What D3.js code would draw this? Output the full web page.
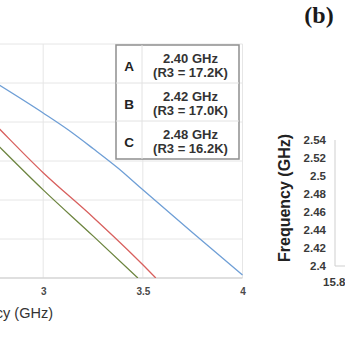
<!DOCTYPE html>
<html>
<head>
<meta charset="utf-8">
<script src="https://cdn.jsdelivr.net/npm/d3@7/dist/d3.min.js"></script>
<style>
  html, body { margin: 0; padding: 0; background: #fff; }
  svg { display: block; }
</style>
</head>
<body>
<script>
// ---- Data (left panel) ----
const freqA = [2.5, 2.75, 3.0, 3.125, 3.25, 3.375, 3.5, 3.75, 4.0];
const valuesA = [29.1, 25.2, 21.15, 19.0, 16.6, 14.1, 11.3, 5.8, 0.4];
const freqB = [2.5, 2.75, 3.0, 3.25, 3.5, 3.565];
const valuesB = [26.3, 19.9, 13.5, 7.8, 1.7, 0];
const freqC = [2.5, 2.75, 3.0, 3.25, 3.475];
const valuesC = [24.0, 17.6, 11.3, 5.4, 0];
const xTicks = [2.5, 3, 3.5, 4];
const xTickLabels = [3, 3.5, 4];
const yTicks = [0, 5, 10, 15, 20, 25, 30];
const seriesNames = ["A", "B", "C"];
const seriesColors = ["#6f9fd6", "#d8605e", "#6d8540"];
const legendFreq = ["2.40 GHz", "2.42 GHz", "2.48 GHz"];
const legendR3 = ["(R3 = 17.2K)", "(R3 = 17.0K)", "(R3 = 16.2K)"];
const xTitle = "Frequency (GHz)";

// ---- Data (right panel, partially visible) ----
const rightYTicks = [2.4, 2.42, 2.44, 2.46, 2.48, 2.5, 2.52, 2.54];
const rightXTicks = [15.8];
const rightYTitle = "Frequency (GHz)";
const panelLabel = "(b)";

const W = 345, H = 345;
const FONT = "Liberation Sans, Arial, sans-serif";
const svg = d3.select("body").append("svg").attr("width", W).attr("height", H)
  .style("background", "#fff");

// ---- Left panel ----
const x = d3.scaleLinear().domain([2.5, 4]).range([-56.5, 242.5]);
const y = d3.scaleLinear().domain([0, 30]).range([278, 44]);

const grid = svg.append("g");
grid.selectAll("line.v").data(xTicks).join("line")
  .attr("x1", d => x(d)).attr("x2", d => x(d))
  .attr("y1", y(30)).attr("y2", y(0))
  .attr("stroke", "#e6e6e6").attr("stroke-width", 1);
grid.selectAll("line.h").data(yTicks).join("line")
  .attr("x1", x(2.5)).attr("x2", x(4))
  .attr("y1", d => y(d)).attr("y2", d => y(d))
  .attr("stroke", d => d === 0 ? "#d4d4d4" : "#e6e6e6").attr("stroke-width", d => d === 0 ? 1.3 : 1);

const xAxis = d3.axisBottom(x).tickValues(xTickLabels).tickSize(0).tickPadding(10)
  .tickFormat(d3.format("~g"));
const gx = svg.append("g").attr("transform", `translate(0,${y(0)})`).call(xAxis);
gx.select(".domain").remove();
gx.selectAll("text").attr("font-family", FONT)
  .attr("font-size", 10).attr("font-weight", "bold").attr("fill", "#4a4a4a");

// axis title: only its right end falls inside the picture, as in the reference
svg.append("text").attr("x", 53).attr("y", 318)
  .attr("text-anchor", "end")
  .attr("font-family", FONT)
  .attr("font-size", 14.5).attr("fill", "#333")
  .text(xTitle);

svg.append("clipPath").attr("id", "plotclip").append("rect")
  .attr("x", x(2.5)).attr("y", y(30) - 2).attr("width", x(4) - x(2.5) + 2).attr("height", y(0) - y(30) + 2);

const line = d3.line().x(d => x(d[0])).y(d => y(d[1])).curve(d3.curveMonotoneX);
const series = [
  d3.zip(freqA, valuesA),
  d3.zip(freqB, valuesB),
  d3.zip(freqC, valuesC)
];
svg.append("g").attr("clip-path", "url(#plotclip)")
  .selectAll("path").data(series).join("path")
  .attr("d", line).attr("fill", "none")
  .attr("stroke", (d, i) => seriesColors[i]).attr("stroke-width", 1.3);

// Legend table
const lgX = 116, lgY = 45, lgW = 123, rowH = 38, keyW = 26;
const lg = svg.append("g");
lg.append("rect").attr("x", lgX).attr("y", lgY).attr("width", lgW).attr("height", rowH * 3)
  .attr("fill", "#fff").attr("stroke", "#8e8e8e").attr("stroke-width", 1.5);
lg.append("line").attr("x1", lgX + keyW).attr("x2", lgX + keyW)
  .attr("y1", lgY).attr("y2", lgY + rowH * 3).attr("stroke", "#e2e2e2");
lg.selectAll("line.row").data([1, 2]).join("line")
  .attr("x1", lgX).attr("x2", lgX + lgW)
  .attr("y1", d => lgY + d * rowH).attr("y2", d => lgY + d * rowH)
  .attr("stroke", "#e2e2e2");
const rows = lg.selectAll("g.row").data(seriesNames).join("g")
  .attr("transform", (d, i) => `translate(0,${lgY + i * rowH})`);
rows.append("text").attr("x", lgX + keyW / 2).attr("y", 26)
  .attr("text-anchor", "middle")
  .attr("font-family", FONT)
  .attr("font-size", 13.5).attr("font-weight", "bold").attr("fill", "#222")
  .text(d => d);
rows.append("text").attr("x", lgX + keyW + (lgW - keyW) / 2).attr("y", 18)
  .attr("text-anchor", "middle")
  .attr("font-family", FONT)
  .attr("font-size", 13).attr("font-weight", "bold").attr("fill", "#333")
  .text((d, i) => legendFreq[i]);
rows.append("text").attr("x", lgX + keyW + (lgW - keyW) / 2).attr("y", 32)
  .attr("text-anchor", "middle")
  .attr("font-family", FONT)
  .attr("font-size", 13).attr("font-weight", "bold").attr("fill", "#333")
  .text((d, i) => legendR3[i]);

// ---- Right panel ----
const y2 = d3.scaleLinear().domain([2.4, 2.54]).range([266, 140]);
const x2 = d3.scaleLinear().domain([15.8, 16.2]).range([335, 535]);

svg.append("line").attr("x1", x2(15.8)).attr("x2", x2(15.8))
  .attr("y1", y2(2.54)).attr("y2", y2(2.4)).attr("stroke", "#cfcfcf").attr("stroke-width", 1);
svg.append("line").attr("x1", x2(15.8)).attr("x2", W)
  .attr("y1", y2(2.4)).attr("y2", y2(2.4)).attr("stroke", "#cfcfcf").attr("stroke-width", 1);

const gy2 = svg.append("g").attr("transform", `translate(${x2(15.8) - 9},0)`)
  .call(d3.axisLeft(y2).tickValues(rightYTicks).tickSize(0).tickPadding(0).tickFormat(d3.format("~g")));
gy2.select(".domain").remove();
gy2.selectAll("text").attr("font-family", FONT)
  .attr("font-size", 11.5).attr("font-weight", "bold").attr("fill", "#3a3a3a");

const gx2 = svg.append("g").attr("transform", `translate(0,${y2(2.4)})`)
  .call(d3.axisBottom(x2).tickValues(rightXTicks).tickSize(0).tickPadding(12).tickFormat(d3.format(".1f")));
gx2.select(".domain").remove();
gx2.selectAll("text").attr("font-family", FONT)
  .attr("font-size", 11.5).attr("font-weight", "bold").attr("fill", "#3a3a3a")
  .attr("text-anchor", "end").attr("dx", 10);

svg.append("text")
  .attr("transform", `translate(290,198) rotate(-90)`)
  .attr("text-anchor", "middle")
  .attr("font-family", FONT)
  .attr("font-size", 16).attr("font-weight", "bold").attr("fill", "#222")
  .text(rightYTitle);

svg.append("text").attr("x", 319).attr("y", 23)
  .attr("text-anchor", "middle")
  .attr("font-family", "Liberation Serif, Times New Roman, serif")
  .attr("font-size", 24).attr("font-weight", "bold").attr("fill", "#1a1a1a")
  .text(panelLabel);
</script>
</body>
</html>
